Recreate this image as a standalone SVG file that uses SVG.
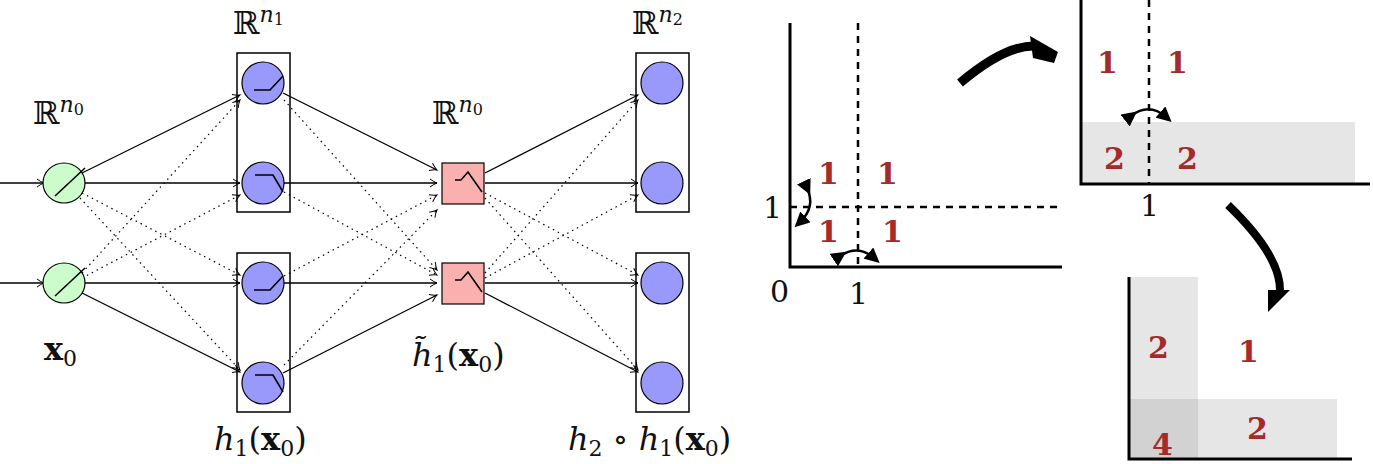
<svg xmlns="http://www.w3.org/2000/svg" width="1373" height="464" viewBox="0 0 1373 464">
<style>
.t{font-family:"DejaVu Serif","Liberation Serif",serif;fill:#111}
.r{font-family:"DejaVu Serif","Liberation Serif",serif;font-weight:bold;fill:#a52a2a;font-size:30px}
.s{stroke:#000;stroke-width:1.3;fill:none;marker-end:url(#a)}
.d{stroke:#000;stroke-width:1.2;fill:none;stroke-dasharray:1.5 4;marker-end:url(#a)}
.box{fill:none;stroke:#000;stroke-width:1.5}
.g{fill:#ccfccc;stroke:#000;stroke-width:1.2}
.b{fill:#9999fb;stroke:#000;stroke-width:1.2}
.p{fill:#fbb0b0;stroke:#000;stroke-width:1.2}
.f{fill:none;stroke:#000;stroke-width:1.6}
.ax{stroke:#000;stroke-width:3;fill:none}
.da{stroke:#000;stroke-width:2.5;stroke-dasharray:7 6;fill:none}
</style>
<defs>
<marker id="a" markerWidth="10" markerHeight="10" refX="8" refY="5" orient="auto" markerUnits="userSpaceOnUse"><path d="M1,1 Q5,4 8,5 Q5,6 1,9" fill="none" stroke="#000" stroke-width="1"/></marker>
<marker id="h" markerWidth="6" markerHeight="6" refX="3" refY="3" orient="auto"><path d="M0,0 L6,3 L0,6 Z" fill="#000"/></marker>
</defs>
<g id="connectors">
<path class="s" d="M0,183 H44"/><path class="s" d="M0,283 H44"/>
<path class="s" d="M82,173 L240,95"/><path class="s" d="M85,183 H240"/>
<path class="s" d="M85,283 H240"/><path class="s" d="M82,293 L240,372"/>
<path class="d" d="M82,193 L240,275"/><path class="d" d="M80,198 L240,370"/>
<path class="d" d="M82,273 L240,100"/><path class="d" d="M82,278 L240,195"/>
<path class="s" d="M283,93 L437,170"/><path class="s" d="M284,183 H437"/>
<path class="s" d="M284,283 H437"/><path class="s" d="M283,373 L437,295"/>
<path class="d" d="M284,100 L437,270"/><path class="d" d="M284,192 L437,275"/>
<path class="d" d="M284,276 L437,195"/><path class="d" d="M284,365 L437,210"/>
<path class="s" d="M485,173 L638,95"/><path class="s" d="M485,183 H638"/>
<path class="s" d="M485,283 H638"/><path class="s" d="M485,293 L638,372"/>
<path class="d" d="M485,193 L638,275"/><path class="d" d="M485,198 L638,370"/>
<path class="d" d="M485,273 L638,100"/><path class="d" d="M485,278 L638,195"/>
</g>
<g id="in1"><ellipse class="g" cx="64" cy="183" rx="21" ry="20"/><path class="f" d="M55,196 L85,168"/></g>
<g id="in2"><ellipse class="g" cx="64" cy="283" rx="21" ry="20"/><path class="f" d="M55,296 L85,268"/></g>
<g id="layer1a"><rect class="box" x="237" y="53" width="53" height="159"/>
<ellipse class="b" cx="263" cy="83" rx="21" ry="21"/><path class="f" d="M254,90 H270 L283,76"/>
<ellipse class="b" cx="263" cy="183" rx="21" ry="21"/><path class="f" d="M255,175 H273 L283,192"/></g>
<g id="layer1b"><rect class="box" x="237" y="253" width="53" height="159"/>
<ellipse class="b" cx="263" cy="283" rx="21" ry="21"/><path class="f" d="M254,290 H270 L283,276"/>
<ellipse class="b" cx="263" cy="383" rx="21" ry="21"/><path class="f" d="M255,375 H273 L283,392"/></g>
<g id="mid1"><rect class="p" x="442" y="163" width="42" height="41"/><path class="f" d="M455,180 H461 L468,172 L482,192"/></g>
<g id="mid2"><rect class="p" x="442" y="263" width="42" height="41"/><path class="f" d="M455,280 H461 L468,272 L482,292"/></g>
<g id="out1"><rect class="box" x="636" y="53" width="53" height="159"/>
<ellipse class="b" cx="662" cy="83" rx="21" ry="21"/><ellipse class="b" cx="662" cy="183" rx="21" ry="21"/></g>
<g id="out2"><rect class="box" x="636" y="253" width="53" height="159"/>
<ellipse class="b" cx="662" cy="283" rx="21" ry="21"/><ellipse class="b" cx="662" cy="383" rx="21" ry="21"/></g>
<g id="labels" class="t">
<text x="33" y="124" font-size="32">ℝ<tspan font-size="22" dy="-12" font-style="italic">n</tspan><tspan font-size="16" dy="3">0</tspan></text>
<text x="233" y="34" font-size="32">ℝ<tspan font-size="22" dy="-12" font-style="italic">n</tspan><tspan font-size="16" dy="3">1</tspan></text>
<text x="432" y="124" font-size="32">ℝ<tspan font-size="22" dy="-12" font-style="italic">n</tspan><tspan font-size="16" dy="3">0</tspan></text>
<text x="632" y="34" font-size="32">ℝ<tspan font-size="22" dy="-12" font-style="italic">n</tspan><tspan font-size="16" dy="3">2</tspan></text>
<text x="44" y="360" font-size="32" font-weight="bold">x<tspan font-weight="normal" font-size="22" dy="6">0</tspan></text>
<text x="412" y="366" font-size="32"><tspan font-style="italic">h̃</tspan><tspan font-size="22" dy="6">1</tspan><tspan dy="-6">(</tspan><tspan font-weight="bold">x</tspan><tspan font-size="22" dy="6">0</tspan><tspan dy="-6">)</tspan></text>
<text x="214" y="450" font-size="32"><tspan font-style="italic">h</tspan><tspan font-size="22" dy="6">1</tspan><tspan dy="-6">(</tspan><tspan font-weight="bold">x</tspan><tspan font-size="22" dy="6">0</tspan><tspan dy="-6">)</tspan></text>
<text x="568" y="450" font-size="32"><tspan font-style="italic">h</tspan><tspan font-size="22" dy="6">2</tspan><tspan dy="-6"> ∘ </tspan><tspan font-style="italic">h</tspan><tspan font-size="22" dy="6">1</tspan><tspan dy="-6">(</tspan><tspan font-weight="bold">x</tspan><tspan font-size="22" dy="6">0</tspan><tspan dy="-6">)</tspan></text>
</g>
<g id="panel1">
<path class="da" d="M858,23 V267"/><path class="da" d="M790,207 H1061"/>
<path class="ax" d="M790,23 V267 H1062"/>
<text class="r" x="818" y="184">1</text><text class="r" x="877" y="184">1</text>
<text class="r" x="818" y="242">1</text><text class="r" x="882" y="242">1</text>
<text class="t" x="770" y="302" font-size="30">0</text><text class="t" x="849" y="304" font-size="30">1</text>
<text class="t" x="763" y="218" font-size="30">1</text>
<path d="M840,256 Q858,244 874,258" fill="none" stroke="#000" stroke-width="2.5" marker-start="url(#h)" marker-end="url(#h)"/>
<path d="M807,188 Q816,207 800,222" fill="none" stroke="#000" stroke-width="2.5" marker-start="url(#h)" marker-end="url(#h)"/>
</g>
<g id="panel2">
<rect x="1082" y="122" width="273" height="62" fill="#e6e6e6"/>
<path class="da" d="M1149,0 V184"/>
<path class="ax" d="M1081,0 V184 H1370"/>
<text class="r" x="1097" y="73">1</text><text class="r" x="1167" y="73">1</text>
<text class="r" x="1104" y="169">2</text><text class="r" x="1177" y="169">2</text>
<text class="t" x="1140" y="216" font-size="30">1</text>
<path d="M1131,116 Q1149,102 1166,117" fill="none" stroke="#000" stroke-width="2.5" marker-start="url(#h)" marker-end="url(#h)"/>
</g>
<g id="panel3">
<rect x="1130" y="277" width="68" height="182" fill="#e6e6e6"/>
<rect x="1198" y="399" width="139" height="60" fill="#e6e6e6"/>
<rect x="1130" y="399" width="68" height="60" fill="#d2d2d2"/>
<path class="ax" d="M1129,277 V459 H1352"/>
<text class="r" x="1148" y="358">2</text><text class="r" x="1238" y="362">1</text>
<text class="r" x="1152" y="455">4</text><text class="r" x="1247" y="439">2</text>
</g>
<g id="bigarrows">
<path d="M960,83 Q1005,45 1035,46" fill="none" stroke="#000" stroke-width="9"/>
<path d="M1030,36 L1058,52 L1054,63 L1033,58 Z" fill="#000"/>
<path d="M1228,205 Q1280,255 1280,290" fill="none" stroke="#000" stroke-width="8"/>
<path d="M1268,290 L1290,290 L1268,312 Z" fill="#000"/>
</g>
</svg>
